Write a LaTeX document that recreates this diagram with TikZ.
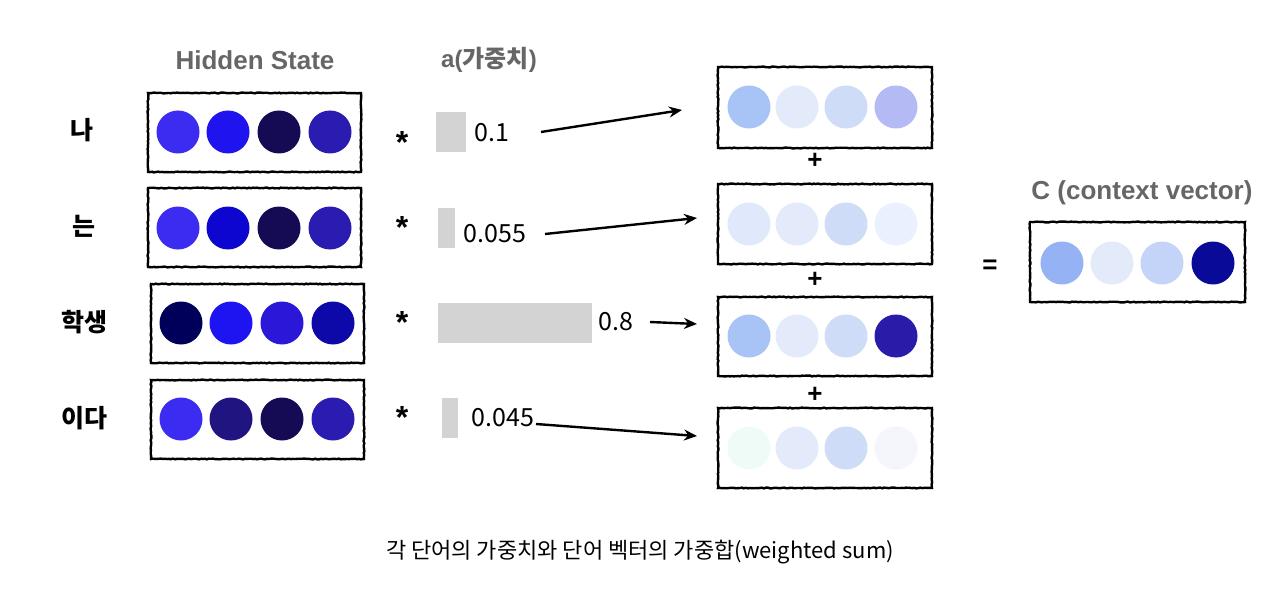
\documentclass[tikz,border=0pt]{standalone}
\usepackage{fontspec}
\setmainfont{Liberation Sans}
\newfontfamily\kr{Noto Sans CJK KR}
\usetikzlibrary{arrows.meta,decorations.pathmorphing}
\definecolor{hd}{HTML}{666666}
\definecolor{barc}{HTML}{D3D3D3}
\tikzset{
  vbox/.style={draw=black,line width=2.4pt,decorate,decoration={random steps,segment length=2pt,amplitude=0.4pt}},
  dot/.style={circle,minimum size=43pt,inner sep=0pt},
  lbl/.style={font=\kr\bfseries\fontsize{25}{28}\selectfont},
  num/.style={font=\kr\fontsize{25}{28}\selectfont,anchor=center},
  hdr/.style={font=\bfseries\fontsize{26}{28}\selectfont,text=hd},
  op/.style={font=\bfseries\fontsize{32}{34}\selectfont},
  arr/.style={line width=2.4pt,-{Stealth[length=13pt,width=11pt]}},
  bar/.style={fill=barc,draw=none}
}
\begin{document}
\begin{tikzpicture}[x=1pt,y=-1pt]
\useasboundingbox[fill=white] (0,0) rectangle (1280,591);
\node[hdr] (h1) at (255,60) {Hidden State};
\node[hdr,font=\bfseries\fontsize{24}{26}\selectfont] (h2) at (489,60) {a({\kr 가중치})};
\node[hdr] (h3) at (1142,193) {C (context vector)};
% left boxes
\draw[vbox] (148,93) rectangle (361,172);
\draw[vbox] (148,188) rectangle (361,267);
\draw[vbox] (151,284) rectangle (364,363);
\draw[vbox] (151,380) rectangle (364,459);
\foreach \y/\a/\b/\c/\d [count=\i] in {132/3C2BF0/1F14F0/150B55/2A1CB0,228/3C2BF0/0D06D0/150B55/2A1CB0,323/00005A/1E14F2/2A17D8/0D08A8,419/3C2BF0/201580/150B55/2A1CB0}{
  \pgfmathsetmacro\xo{\i>2 ? 3 : 0}
  \definecolor{ca}{HTML}{\a}\definecolor{cb}{HTML}{\b}\definecolor{cc}{HTML}{\c}\definecolor{cd}{HTML}{\d}
  \node[dot,fill=ca] (l\i a) at (178+\xo,\y) {};
  \node[dot,fill=cb] (l\i b) at (228+\xo,\y) {};
  \node[dot,fill=cc] (l\i c) at (279+\xo,\y) {};
  \node[dot,fill=cd] (l\i d) at (330+\xo,\y) {};
}
\node[lbl] (w1) at (82,130) {나};
\node[lbl] (w2) at (84,226) {는};
\node[lbl] (w3) at (84,322) {학생};
\node[lbl] (w4) at (84,418) {이다};
\foreach \y [count=\i] in {142,227,322,417}{\node[op] (s\i) at (402,\y) {*};}
\fill[bar] (436,112) rectangle (466,152);
\fill[bar] (438,208) rectangle (455,248);
\fill[bar] (438,303) rectangle (592,343);
\fill[bar] (442,398) rectangle (458,438);
\node[num] (n1) at (492,133) {0.1};
\node[num] (n2) at (495,234) {0.055};
\node[num] (n3) at (616,322) {0.8};
\node[num] (n4) at (503,418) {0.045};
% right boxes
\draw[vbox] (718,67) rectangle (932,148);
\draw[vbox] (718,184) rectangle (932,264);
\draw[vbox] (718,297) rectangle (932,376);
\draw[vbox] (718,408) rectangle (932,488);
\draw[vbox] (1030,222) rectangle (1245,302);
\foreach \y/\a/\b/\c/\d [count=\i] in {107/A8C4F6/E3EBFB/CFDCF8/B4BAF4,224/E0E9FB/E3EBFB/CFDCF8/EAF0FD,336/A8C4F6/E3EBFB/CFDCF8/281CA8,448/EEFBF6/E3EBFB/CFDCF8/F5F6FB}{
  \definecolor{ca}{HTML}{\a}\definecolor{cb}{HTML}{\b}\definecolor{cc}{HTML}{\c}\definecolor{cd}{HTML}{\d}
  \node[dot,fill=ca] (r\i a) at (749,\y) {};
  \node[dot,fill=cb] (r\i b) at (797,\y) {};
  \node[dot,fill=cc] (r\i c) at (846,\y) {};
  \node[dot,fill=cd] (r\i d) at (896,\y) {};
}
\definecolor{ca}{HTML}{94B2F4}\definecolor{cb}{HTML}{E3EBFB}\definecolor{cc}{HTML}{C4D4F8}\definecolor{cd}{HTML}{0A0A98}
\node[dot,fill=ca] (ca) at (1062,263) {};
\node[dot,fill=cb] (cb) at (1112,263) {};
\node[dot,fill=cc] (cc) at (1162,263) {};
\node[dot,fill=cd] (cd) at (1213,263) {};
\foreach \y [count=\i] in {161,280,395}{\node[op,font=\bfseries\fontsize{26}{26}\selectfont] (p\i) at (815,\y) {+};}
\node[op,font=\bfseries\fontsize{26}{26}\selectfont] (eq) at (990,267) {=};
% arrows
\coordinate (f1) at (541,132); \coordinate (f2) at (545,234);
\coordinate (f3) at (650,322); \coordinate (f4) at (536,424);
\coordinate (t1) at (682,110); \coordinate (t2) at (697,218);
\coordinate (t3) at (697,324); \coordinate (t4) at (697,436);
\draw[arr] (f1) -- (t1);
\draw[arr] (f2) -- (t2);
\draw[arr] (f3) -- (t3);
\draw[arr] (f4) -- (t4);
\node[font=\kr\fontsize{22}{24}\selectfont] (cap) at (640,552) {각 단어의 가중치와 단어 벡터의 가중합(weighted sum)};
\end{tikzpicture}
\end{document}
